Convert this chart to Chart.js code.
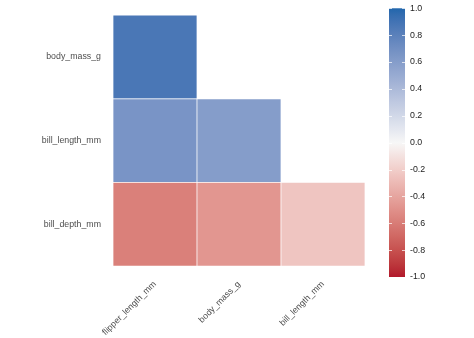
<!DOCTYPE html>
<html>
<head>
<meta charset="utf-8">
<script src="https://cdn.jsdelivr.net/npm/chart.js@4/dist/chart.umd.min.js"></script>
<style>
  html, body { margin:0; padding:0; background:#fff; }
  #wrap { width:474px; height:338px; position:relative; }
</style>
</head>
<body>
<div id="wrap"><canvas id="corrChart"></canvas></div>
<script>
// ========== Data ==========
const xLabels = ['flipper_length_mm', 'body_mass_g', 'bill_length_mm'];
const yLabels = ['bill_depth_mm', 'bill_length_mm', 'body_mass_g']; // bottom -> top
const rowBillDepth  = [-0.58, -0.47, -0.24];
const rowBillLength = [0.66, 0.60, null];
const rowBodyMass   = [0.87, null, null];
const legendTicks = [-1.0, -0.8, -0.6, -0.4, -0.2, 0.0, 0.2, 0.4, 0.6, 0.8, 1.0];

// ========== Colour helpers (Lab interpolation like ggplot) ==========
const lowCol = '#B2182B', midCol = '#F7F7F7', highCol = '#2166AC';

function hexToRgb(h){ return [1,3,5].map(i => parseInt(h.substr(i,2),16)); }
function toLin(c){ c/=255; return c <= 0.04045 ? c/12.92 : Math.pow((c+0.055)/1.055, 2.4); }
function fromLin(c){ const v = c <= 0.0031308 ? 12.92*c : 1.055*Math.pow(c,1/2.4)-0.055; return Math.max(0, Math.min(255, Math.round(v*255))); }
function rgbToLab(rgb){
  const [r,g,b] = rgb.map(toLin);
  let x = (0.4124*r + 0.3576*g + 0.1805*b)/0.95047;
  let y = (0.2126*r + 0.7152*g + 0.0722*b);
  let z = (0.0193*r + 0.1192*g + 0.9505*b)/1.08883;
  const f = t => t > 0.008856 ? Math.cbrt(t) : 7.787*t + 16/116;
  const fx=f(x), fy=f(y), fz=f(z);
  return [116*fy-16, 500*(fx-fy), 200*(fy-fz)];
}
function labToRgb(lab){
  const fy = (lab[0]+16)/116, fx = fy + lab[1]/500, fz = fy - lab[2]/200;
  const inv = t => t*t*t > 0.008856 ? t*t*t : (t-16/116)/7.787;
  const x = inv(fx)*0.95047, y = inv(fy), z = inv(fz)*1.08883;
  const r =  3.2406*x - 1.5372*y - 0.4986*z;
  const g = -0.9689*x + 1.8758*y + 0.0415*z;
  const b =  0.0557*x - 0.2040*y + 1.0570*z;
  return [r,g,b].map(fromLin);
}
const labLow = rgbToLab(hexToRgb(lowCol)), labMid = rgbToLab(hexToRgb(midCol)), labHigh = rgbToLab(hexToRgb(highCol));
function corrColor(v){
  const end = v < 0 ? labLow : labHigh, t = Math.abs(v);
  const lab = labMid.map((m,i) => m + (end[i]-m)*t);
  const c = labToRgb(lab);
  return 'rgb(' + c.join(',') + ')';
}

// ========== Datasets ==========
const rows = [rowBillDepth, rowBillLength, rowBodyMass];
const datasets = rows.map((r, i) => ({
  label: yLabels[i],
  data: r.map(v => v == null ? null : [i, i+1]),
  backgroundColor: r.map(v => v == null ? 'rgba(0,0,0,0)' : corrColor(v)),
  borderColor: '#ffffff',
  borderWidth: 0.7,
  borderSkipped: false,
  barPercentage: 1,
  categoryPercentage: 1,
  grouped: false
}));

// ========== Colourbar plugin ==========
const colorbar = {
  id: 'colorbar',
  afterDraw(chart){
    const s = chart.scales.cb, ctx = chart.ctx;
    const x0 = s.left + 24, w = 16;
    const yTop = s.getPixelForValue(1), yBot = s.getPixelForValue(-1);
    const grad = ctx.createLinearGradient(0, yBot, 0, yTop);
    for (let k = 0; k <= 40; k++){
      const v = -1 + k*0.05;
      grad.addColorStop(k/40, corrColor(v));
    }
    ctx.save();
    ctx.fillStyle = grad;
    ctx.fillRect(x0, yTop, w, yBot - yTop);
    ctx.strokeStyle = 'rgba(255,255,255,0.9)';
    ctx.lineWidth = 0.8;
    legendTicks.forEach(v => {
      const y = Math.round(s.getPixelForValue(v)) + 0.5;
      ctx.beginPath();
      ctx.moveTo(x0, y); ctx.lineTo(x0 + 3, y);
      ctx.moveTo(x0 + w - 3, y); ctx.lineTo(x0 + w, y);
      ctx.stroke();
    });
    ctx.restore();
  }
};

Chart.defaults.font.family = '"Liberation Sans", Arial, Helvetica, sans-serif';

new Chart(document.getElementById('corrChart'), {
  type: 'bar',
  data: { labels: xLabels, datasets: datasets },
  options: {
    responsive: true,
    maintainAspectRatio: false,
    animation: false,
    layout: { padding: { top: 7, left: 0, right: 0, bottom: 0 } },
    plugins: { legend: { display: false }, tooltip: { enabled: false } },
    scales: {
      x: {
        type: 'category',
        offset: true,
        grid: { display: false },
        border: { display: false },
        ticks: { minRotation: 45, maxRotation: 45, autoSkip: false, padding: -6, color: '#4d4d4d', font: { size: 8.8 } },
        afterFit(scale){ scale.height = 61; }
      },
      y: {
        type: 'linear',
        min: -0.131, max: 3.083,
        // tick marks hidden; tickLength only pushes labels away from the panel
        grid: { display: false, drawTicks: true, tickLength: 12 },
        border: { display: false },
        afterBuildTicks(scale){ scale.ticks = yLabels.map((l, i) => ({ value: i + 0.5 })); },
        ticks: { padding: 0, color: '#4d4d4d', font: { size: 8.8 },
          callback: v => yLabels[Math.round(v - 0.5)] },
        afterFit(scale){ scale.width = 113; }
      },
      cb: {
        type: 'linear',
        position: 'right',
        min: -1, max: 1,
        grid: { display: false, drawTicks: true, tickLength: 42 },
        border: { display: false },
        afterBuildTicks(scale){ scale.ticks = legendTicks.map(v => ({ value: v })); },
        ticks: { padding: 3, color: '#222222', font: { size: 8.8 },
          callback: v => Number(v).toFixed(1) },
        afterFit(scale){ scale.width = 109; }
      }
    }
  },
  plugins: [colorbar]
});
</script>
</body>
</html>
